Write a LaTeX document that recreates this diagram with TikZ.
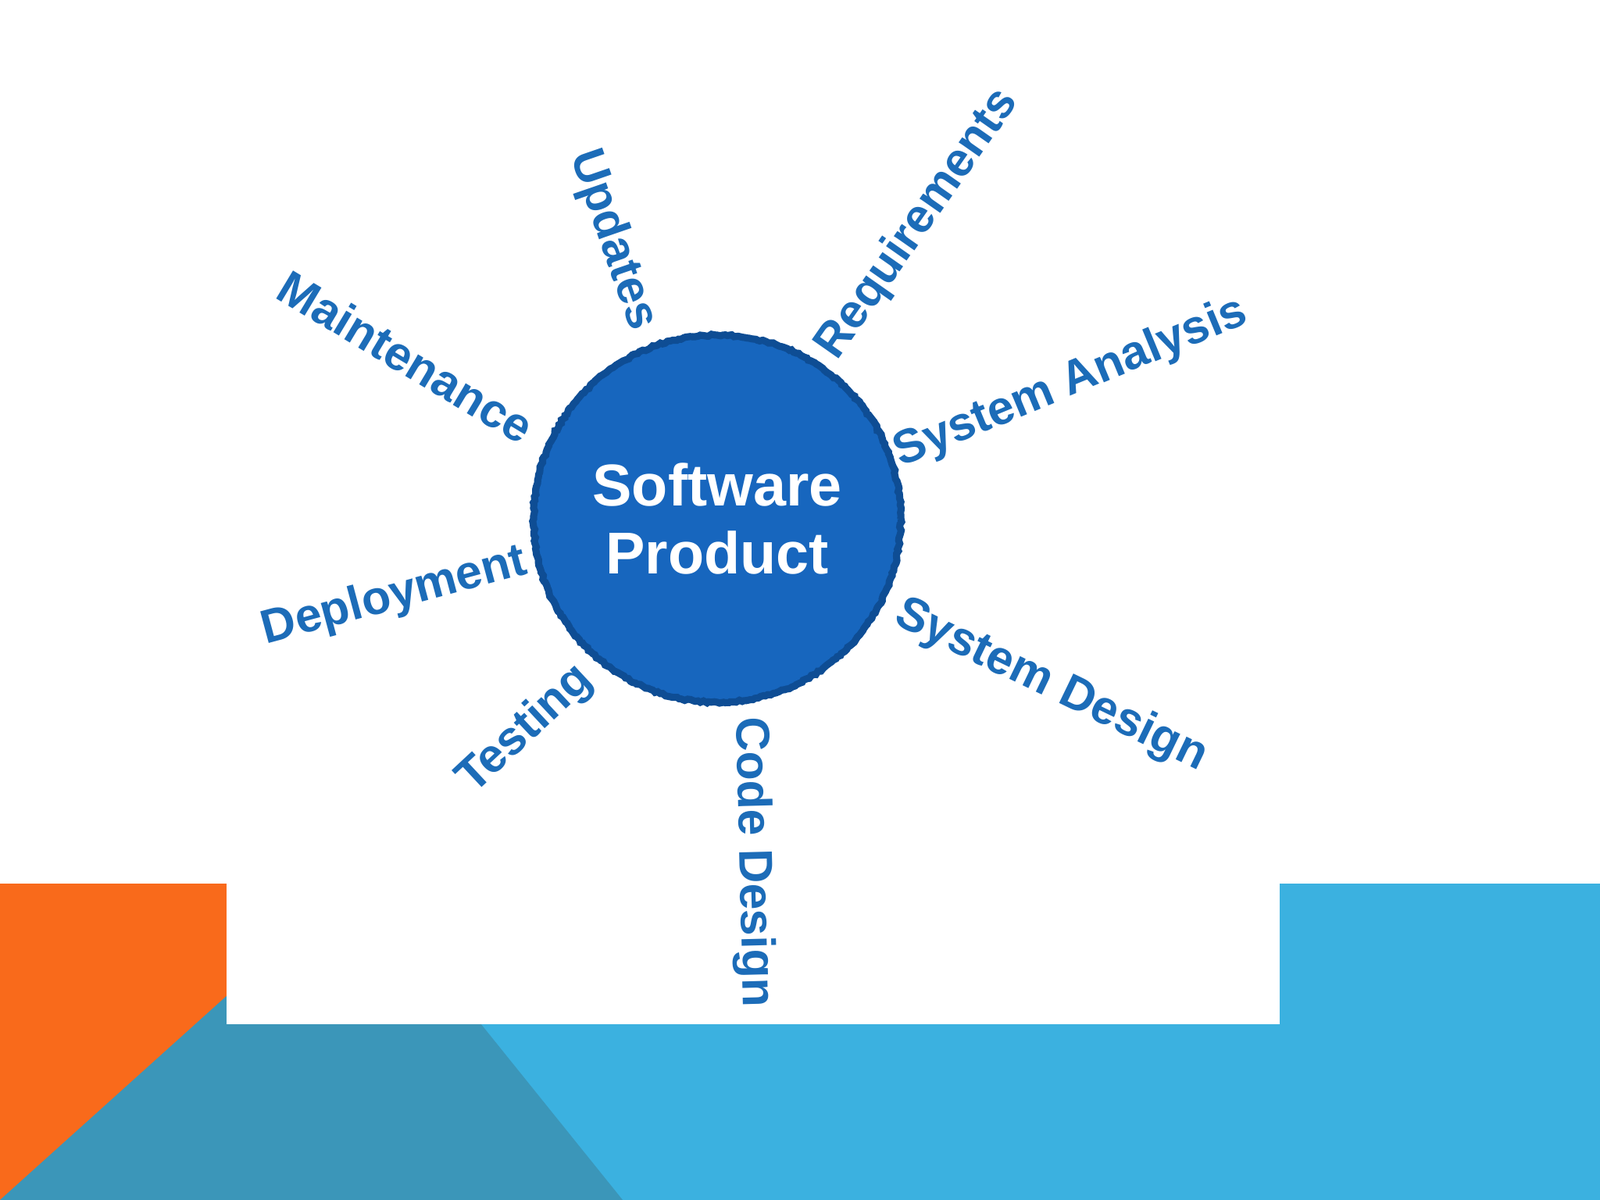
\documentclass[tikz,border=0pt]{standalone}
\usepackage{fontspec}
\setmainfont{Liberation Sans}
\usetikzlibrary{calc,decorations.pathmorphing}
\definecolor{slideorange}{RGB}{249,106,27}
\definecolor{slideteal}{RGB}{59,150,185}
\definecolor{slideblue}{RGB}{59,177,224}
\definecolor{hubfill}{RGB}{23,102,190}
\definecolor{hubedge}{RGB}{14,77,148}
\definecolor{spokeblue}{RGB}{28,108,184}
\newcommand{\HubSize}{4.74cm}
\tikzset{Hub/.style={
    circle,
    inner sep=0pt,
    minimum size=\HubSize,
    fill=hubfill,
    text=white,
    align=center,
    font=\bfseries\fontsize{21.5}{25}\selectfont,
    }
}

\begin{document}
\begin{tikzpicture}[
    s/.style={
    inner sep=0pt,
    text=spokeblue,
    font=\bfseries\fontsize{17.3}{20}\selectfont,
    },
]
\useasboundingbox (0,0) rectangle (20.48,15.36);
% slide background shapes
\fill[slideblue] (2.90,0) rectangle (20.48,4.05);
\fill[slideorange] (0,0) rectangle (2.90,4.05);
\fill[slideteal] (0,0) -- (4.62,4.16) -- (7.97,0) -- cycle;
\fill[white] (2.90,2.25) rectangle (16.38,15.36);

\node [Hub] (prod) at (9.18,8.72) {Software\\Product};
\draw[hubedge, line width=2.6pt,
    decorate, decoration={random steps, segment length=1pt, amplitude=0.35pt}]
    (prod.center) circle (2.35);

\node [s, rotate=-71] (upd) at ($(prod.center)+(110.6:3.81)$) {Updates};
\node [s, rotate=55] (req) at ($(prod.center)+(55.7:4.56)$) {Requirements};
\node [s, rotate=22.5] (ana) at ($(prod.center)+(21.0:4.85)$) {System Analysis};
\node [s, rotate=-25.8] (sdes) at ($(prod.center)+(-26.6:4.78)$) {System Design};
\node [s, rotate=-88.5] (code) at ($(prod.center)+(-84.2:4.42)$) {Code Design};
\node [s, rotate=43] (test) at ($(prod.center)+(-132.2:3.65)$) {Testing};
\node [s, rotate=15] (dep) at ($(prod.center)+(-166.4:4.25)$) {Deployment};
\node [s, rotate=-31] (mnt) at ($(prod.center)+(152.5:4.49)$) {Maintenance};
\end{tikzpicture}
\end{document}
